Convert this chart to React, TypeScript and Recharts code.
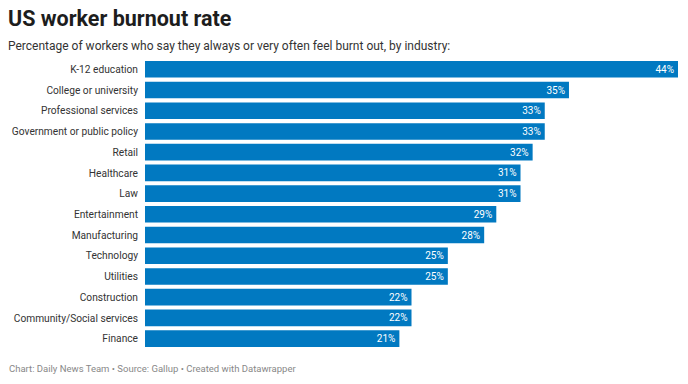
import React from "react";
import { BarChart, Bar, XAxis, YAxis, LabelList } from "recharts";

const industries = [
  "K-12 education",
  "College or university",
  "Professional services",
  "Government or public policy",
  "Retail",
  "Healthcare",
  "Law",
  "Entertainment",
  "Manufacturing",
  "Technology",
  "Utilities",
  "Construction",
  "Community/Social services",
  "Finance",
];
const burnout = [44, 35, 33, 33, 32, 31, 31, 29, 28, 25, 25, 22, 22, 21];

const data = industries.map((name, i) => ({ name, value: burnout[i] }));

const FONT = "Roboto, 'Noto Sans', sans-serif";

const CategoryTick = (props: any) => {
  const { x, y, payload } = props;
  return (
    <text
      x={x}
      y={y}
      dy={3.6}
      textAnchor="end"
      fill="#333"
      fontSize={10.2}
      fontFamily={FONT}
    >
      {payload.value}
    </text>
  );
};

export default function App() {
  return (
    <div
      style={{
        position: "absolute",
        left: 0,
        top: 0,
        width: 688,
        height: 384,
        background: "#fff",
        fontFamily: FONT,
        overflow: "hidden",
      }}
    >
      <div
        style={{
          position: "absolute",
          left: 8,
          top: 5,
          fontSize: 21.5,
          fontWeight: 700,
          color: "#1d1d1d",
          lineHeight: "28px",
          whiteSpace: "nowrap",
        }}
      >
        US worker burnout rate
      </div>
      <div
        style={{
          position: "absolute",
          left: 8,
          top: 38,
          fontSize: 12,
          color: "#333",
          lineHeight: "16px",
          whiteSpace: "nowrap",
        }}
      >
        Percentage of workers who say they always or very often feel burnt out, by industry:
      </div>
      <div style={{ position: "absolute", left: 0, top: 0 }}>
        <BarChart
          width={688}
          height={384}
          data={data}
          layout="vertical"
          margin={{ top: 59, right: 10, bottom: 35, left: 0 }}
        >
          <XAxis type="number" domain={[0, 44]} hide />
          <YAxis
            type="category"
            dataKey="name"
            width={145}
            axisLine={false}
            tickLine={false}
            tickSize={0}
            tickMargin={7}
            interval={0}
            tick={<CategoryTick />}
          />
          <Bar dataKey="value" fill="#0179c1" barSize={16.6} isAnimationActive={false}>
            <LabelList
              dataKey="value"
              position="insideRight"
              offset={4}
              fill="#fff"
              fontSize={10}
              fontFamily={FONT}
              formatter={(v: any) => `${v}%`}
            />
          </Bar>
        </BarChart>
      </div>
      <div
        style={{
          position: "absolute",
          left: 9,
          top: 362,
          fontSize: 9.5,
          color: "#888",
          lineHeight: "14px",
          whiteSpace: "nowrap",
        }}
      >
        Chart: Daily News Team • Source: Gallup • Created with Datawrapper
      </div>
    </div>
  );
}
